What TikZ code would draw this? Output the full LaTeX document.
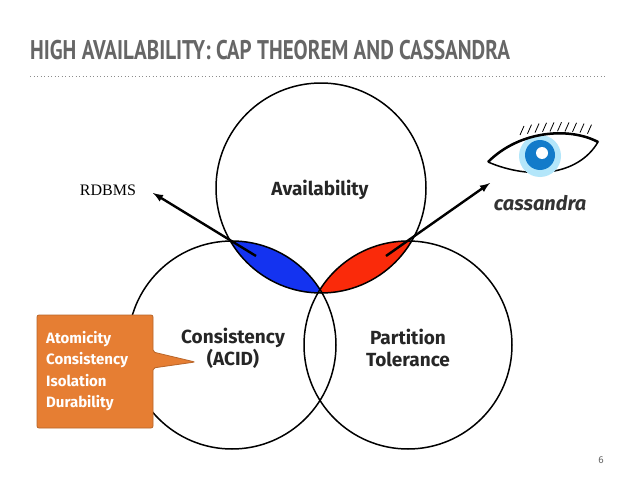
\documentclass[tikz,border=0pt]{standalone}
\usepackage{fontspec}
\setmainfont{Fira Sans}
\newfontfamily\titlefont{PT Sans}
\newfontfamily\serifrm{Liberation Serif}
\definecolor{calloutc}{HTML}{E67E33}
\definecolor{lensb}{HTML}{1433F0}
\definecolor{lensr}{HTML}{FA2A0A}
\begin{document}
\begin{tikzpicture}[x=1pt,y=-1pt,
  circ/.style={draw=black,line width=1.5pt},
  lab/.style={font=\fontsize{19}{22}\selectfont\bfseries,align=center,text=black!85},
  arr/.style={line width=2.4pt,-latex}]
\useasboundingbox (0,0) rectangle (638,479);
\fill[white] (0,0) rectangle (638,479);
\node[anchor=west,text=black!60,inner sep=0] (title) at (30,50) {\titlefont\bfseries\fontsize{27}{30}\selectfont\scalebox{0.78}[1]{HIGH AVAILABILITY: CAP THEOREM AND CASSANDRA}};
\draw[black!45,line width=0.9pt,dash pattern=on 0.9pt off 2.6pt] (30,76) -- (607,76);
% lenses
\begin{scope}
\clip (321,188) circle (105);
\clip (232,345) circle (104);
\fill[lensb] (0,0) rectangle (638,479);
\fill[white] (408,345) circle (104);
\end{scope}
\begin{scope}
\clip (321,188) circle (105);
\clip (408,345) circle (104);
\fill[lensr] (0,0) rectangle (638,479);
\fill[white] (232,345) circle (104);
\end{scope}
\draw[circ] (321,188) circle (105);
\draw[circ] (232,345) circle (104);
\draw[circ] (408,345) circle (104);
\node[lab] (avail) at (320,190) {Availability};
\node[lab] (cons) at (233,348) {Consistency\\(ACID)};
\node[lab] (part) at (408,348) {Partition\\Tolerance};
\node (rdbms) at (108,190) {\serifrm\fontsize{16}{20}\selectfont RDBMS};
\coordinate (b) at (256,256);
\coordinate (r) at (386,256);
\coordinate (rt) at (153,193);
\coordinate (ct) at (490,183);
\draw[arr] (b) -- (rt);
\draw[arr] (r) -- (ct);
% eye
\draw[black,line width=1.5pt,fill=white] (488,162) .. controls (520,130) and (570,127) .. (598,142) .. controls (578,176) and (530,180) .. (488,162);
\fill[cyan!30] (540,156) circle (21);
\fill[cyan!60!blue] (540,155) circle (15);
\fill[white] (542,153) circle (6);
\draw[black,line width=2.5pt] (488,162) .. controls (520,130) and (570,127) .. (598,142);
\foreach \i in {0,...,9} {\draw[black,line width=0.8pt] (520+7.5*\i,{135-1.5*\i+0.15*\i*\i}) -- ++(4,-9);}
\node (cass) at (540,203) {\fontsize{20}{22}\selectfont\bfseries\itshape\color{black!80}cassandra};
% callout
\draw[calloutc!80!black,fill=calloutc,line width=0.8pt,rounded corners=2pt]
  (37,315) -- (153,315) -- (153,352) -- (195,362) -- (153,368) -- (153,428) -- (37,428) -- cycle;
\node[anchor=north west,align=left,text=white,font=\fontsize{15}{21.5}\selectfont\bfseries,inner sep=0] (acid) at (46,331) {Atomicity\\Consistency\\Isolation\\Durability};
\node[text=black!60,font=\fontsize{10}{12}\selectfont] (pg) at (601,460) {6};
\end{tikzpicture}
\end{document}
